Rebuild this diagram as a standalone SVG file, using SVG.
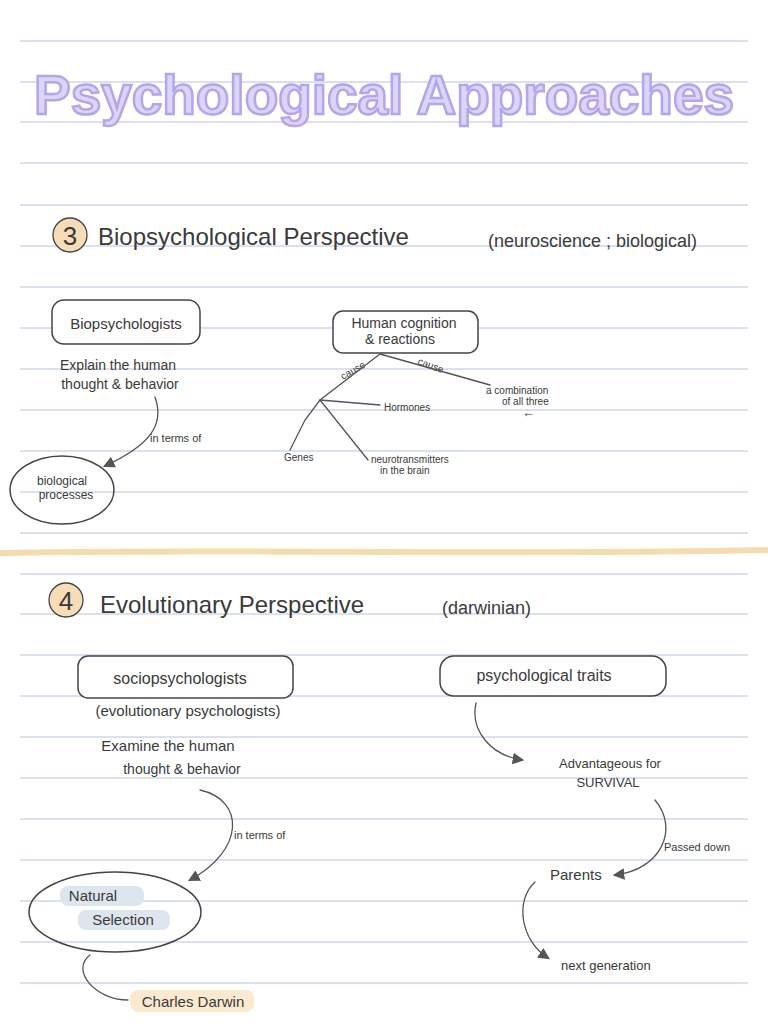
<svg xmlns="http://www.w3.org/2000/svg" width="768" height="1024" viewBox="0 0 768 1024">
<defs>
<style>
.rule{stroke:#b4c3e0;stroke-width:1}
.t{font-family:"Liberation Sans",sans-serif;fill:#3a3a3a}
.ln{fill:none;stroke:#555;stroke-width:1.3;stroke-linecap:round}
.box{fill:#fff;stroke:#444;stroke-width:1.5}
</style>
<marker id="ah" viewBox="0 0 10 10" refX="8" refY="5" markerWidth="9" markerHeight="9" orient="auto"><path d="M0,0L10,5L0,10z" fill="#555"/></marker>
</defs>
<rect width="768" height="1024" fill="#fff"/>
<g id="rules">
<line class="rule" x1="20" y1="41" x2="748" y2="41"/><line class="rule" x1="20" y1="82" x2="748" y2="82"/><line class="rule" x1="20" y1="122" x2="748" y2="122"/><line class="rule" x1="20" y1="163" x2="748" y2="163"/><line class="rule" x1="20" y1="205" x2="748" y2="205"/><line class="rule" x1="20" y1="246" x2="748" y2="246"/><line class="rule" x1="20" y1="287" x2="748" y2="287"/><line class="rule" x1="20" y1="328" x2="748" y2="328"/><line class="rule" x1="20" y1="369" x2="748" y2="369"/><line class="rule" x1="20" y1="410" x2="748" y2="410"/><line class="rule" x1="20" y1="451" x2="748" y2="451"/><line class="rule" x1="20" y1="492" x2="748" y2="492"/><line class="rule" x1="20" y1="533" x2="748" y2="533"/><line class="rule" x1="20" y1="574" x2="748" y2="574"/><line class="rule" x1="20" y1="614" x2="748" y2="614"/><line class="rule" x1="20" y1="655" x2="748" y2="655"/><line class="rule" x1="20" y1="696" x2="748" y2="696"/><line class="rule" x1="20" y1="737" x2="748" y2="737"/><line class="rule" x1="20" y1="778" x2="748" y2="778"/><line class="rule" x1="20" y1="819" x2="748" y2="819"/><line class="rule" x1="20" y1="860" x2="748" y2="860"/><line class="rule" x1="20" y1="901" x2="748" y2="901"/><line class="rule" x1="20" y1="942" x2="748" y2="942"/><line class="rule" x1="20" y1="983" x2="748" y2="983"/>
<path d="M0,553 C200,548 500,556 768,550" stroke="#f3dcb0" stroke-width="6" fill="none"/>
</g>
<g id="title"><text x="34" y="114" textLength="700" lengthAdjust="spacingAndGlyphs" class="t" font-size="55" font-weight="bold" stroke="#b4a6ea" stroke-width="2.5" style="fill:#dcd5f7">Psychological Approaches</text></g>
<g id="h3"><circle cx="70" cy="235" r="17" fill="#f6ddb8" stroke="#444" stroke-width="1.3"/><text x="70" y="245" text-anchor="middle" class="t" font-size="26">3</text>
<text x="98" y="245" class="t" font-size="24">Biopsychological  Perspective</text>
<text x="488" y="247" class="t" font-size="18">(neuroscience ; biological)</text></g>
<g id="bio"><rect class="box" x="52" y="300" width="148" height="44" rx="12"/><text x="126" y="329" text-anchor="middle" class="t" font-size="15">Biopsychologists</text>
<text x="118" y="370" text-anchor="middle" class="t" font-size="14">Explain the human</text><text x="120" y="389" text-anchor="middle" class="t" font-size="14">thought &amp; behavior</text></g>
<g id="bp"><ellipse cx="62" cy="490" rx="52" ry="34" fill="none" stroke="#444" stroke-width="1.5"/><text x="62" y="485" text-anchor="middle" class="t" font-size="12">biological</text><text x="66" y="499" text-anchor="middle" class="t" font-size="12">processes</text></g>
<g id="hc"><rect class="box" x="333" y="311" width="145" height="42" rx="10"/><text x="404" y="328" text-anchor="middle" class="t" font-size="14">Human cognition</text><text x="400" y="344" text-anchor="middle" class="t" font-size="14">&amp; reactions</text></g>
<g id="leaves" class="t" font-size="10">
<text x="384" y="411">Hormones</text><text x="284" y="461">Genes</text><text x="371" y="463">neurotransmitters</text><text x="380" y="474">in the brain</text>
<text x="486" y="394">a combination</text><text x="502" y="405">of all three</text><text x="522" y="417" font-size="13">←</text>
<text x="343" y="380" font-size="10" transform="rotate(-30 343 380)">cause</text><text x="417" y="364" font-size="10" transform="rotate(20 417 364)">cause</text>
<text x="150" y="442" font-size="11">in terms of</text></g>
<g id="h4"><circle cx="66" cy="600" r="17" fill="#f6ddb8" stroke="#444" stroke-width="1.3"/><text x="66" y="610" text-anchor="middle" class="t" font-size="26">4</text>
<text x="100" y="613" class="t" font-size="24">Evolutionary  Perspective</text><text x="442" y="614" class="t" font-size="18">(darwinian)</text></g>
<g id="soc"><rect class="box" x="78" y="656" width="215" height="42" rx="10"/><text x="180" y="684" text-anchor="middle" class="t" font-size="16">sociopsychologists</text>
<text x="188" y="716" text-anchor="middle" class="t" font-size="15">(evolutionary psychologists)</text>
<text x="168" y="751" text-anchor="middle" class="t" font-size="15">Examine the human</text><text x="182" y="774" text-anchor="middle" class="t" font-size="14">thought &amp; behavior</text>
<text x="234" y="839" class="t" font-size="11">in terms of</text></g>
<g id="ns"><ellipse cx="115" cy="912" rx="86" ry="40" fill="none" stroke="#444" stroke-width="1.5"/><rect x="60" y="886" width="84" height="20" rx="8" fill="#dde6ee"/><rect x="78" y="910" width="92" height="20" rx="8" fill="#dde6ee"/><text x="93" y="901" text-anchor="middle" class="t" font-size="15">Natural</text><text x="123" y="925" text-anchor="middle" class="t" font-size="15">Selection</text></g>
<g id="cd"><rect x="130" y="990" width="124" height="22" rx="8" fill="#fbead0"/><text x="193" y="1007" text-anchor="middle" class="t" font-size="15">Charles Darwin</text></g>
<g id="pt"><rect class="box" x="440" y="656" width="226" height="40" rx="14"/><text x="544" y="681" text-anchor="middle" class="t" font-size="16">psychological traits</text></g>
<g id="adv"><text x="610" y="768" text-anchor="middle" class="t" font-size="13">Advantageous for</text><text x="608" y="787" text-anchor="middle" class="t" font-size="13">SURVIVAL</text></g>
<text x="664" y="851" class="t" font-size="11">Passed down</text>
<text x="550" y="880" class="t" font-size="15">Parents</text>
<text x="561" y="970" class="t" font-size="13">next generation</text>
<g id="connectors">
<path class="ln" d="M155,397 C165,425 150,445 105,466" marker-end="url(#ah)"/>
<path class="ln" d="M380,354 L320,400 L305,420 L290,450"/><path class="ln" d="M380,354 L490,385"/><path class="ln" d="M320,400 L380,405"/><path class="ln" d="M320,400 L368,460"/>
<path class="ln" d="M200,790 C245,800 245,850 190,880" marker-end="url(#ah)"/>
<path class="ln" d="M90,955 C70,970 95,1000 128,1000"/>
<path class="ln" d="M476,703 C470,730 490,755 522,760" marker-end="url(#ah)"/>
<path class="ln" d="M655,800 C680,830 660,870 615,875" marker-end="url(#ah)"/>
<path class="ln" d="M535,882 C515,900 520,940 548,958" marker-end="url(#ah)"/>
</g>
</svg>
